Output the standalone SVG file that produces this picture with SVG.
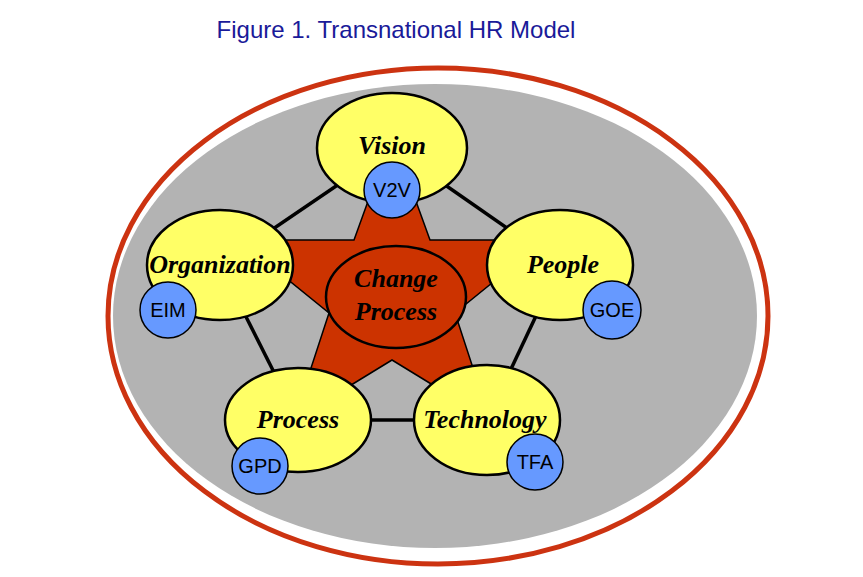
<svg xmlns="http://www.w3.org/2000/svg" width="863" height="577" viewBox="0 0 863 577">
<style>
.n{fill:#ffff66;stroke:#000;stroke-width:2.5}
.b{fill:#6699ff;stroke:#000;stroke-width:1.5}
.l{font-family:"Liberation Serif",serif;font-style:italic;font-weight:bold;font-size:26px;text-anchor:middle}
.s{font-family:"Liberation Sans",sans-serif;font-size:20px;text-anchor:middle}
</style>
<rect width="863" height="577" fill="#fff"/>
<text x="396" y="38" font-family="Liberation Sans,sans-serif" font-size="24" fill="#1a1a99" text-anchor="middle">Figure 1. Transnational HR Model</text>
<ellipse cx="438" cy="316" rx="330" ry="248" fill="#fff" stroke="#cc3311" stroke-width="5"/>
<ellipse cx="435" cy="316" rx="322" ry="232" fill="#b3b3b3"/>
<g id="connectors" stroke="#000" stroke-width="3.5" fill="none">
<line x1="392" y1="148" x2="560" y2="265"/>
<line x1="560" y1="265" x2="487" y2="420"/>
<line x1="487" y1="420" x2="298" y2="420"/>
<line x1="298" y1="420" x2="220" y2="265"/>
<line x1="220" y1="265" x2="392" y2="148"/>
</g>
<g id="star"><polygon fill="#cc3300" stroke="#000" stroke-width="1.5" points="392,135 430,240 545,240 455,313 490,420 392,360 294,420 329,313 239,240 354,240"/></g>
<g id="change"><ellipse cx="396" cy="297" rx="70" ry="51" fill="#cc3300" stroke="#000" stroke-width="2.5"/>
<text class="l" x="396" y="287" font-weight="normal">Change</text><text class="l" x="396" y="320" font-weight="normal">Process</text></g>
<g id="vision"><ellipse class="n" cx="392" cy="148" rx="75" ry="55"/><text class="l" x="392" y="154">Vision</text>
<circle class="b" cx="392" cy="190" r="28"/><text class="s" x="392" y="197">V2V</text></g>
<g id="people"><ellipse class="n" cx="560" cy="265" rx="73" ry="55"/><text class="l" x="563" y="273">People</text>
<circle class="b" cx="612" cy="310" r="29"/><text class="s" x="612" y="317">GOE</text></g>
<g id="organization"><ellipse class="n" cx="220" cy="265" rx="73" ry="55"/><text class="l" x="220" y="273">Organization</text>
<circle class="b" cx="168" cy="310" r="28"/><text class="s" x="168" y="317">EIM</text></g>
<g id="process"><ellipse class="n" cx="298" cy="420" rx="73" ry="52"/><text class="l" x="298" y="428">Process</text>
<circle class="b" cx="260" cy="466" r="28"/><text class="s" x="260" y="473">GPD</text></g>
<g id="technology"><ellipse class="n" cx="487" cy="420" rx="73" ry="55"/><text class="l" x="485" y="428">Technology</text>
<circle class="b" cx="535" cy="462" r="28"/><text class="s" x="535" y="469">TFA</text></g>
</svg>
